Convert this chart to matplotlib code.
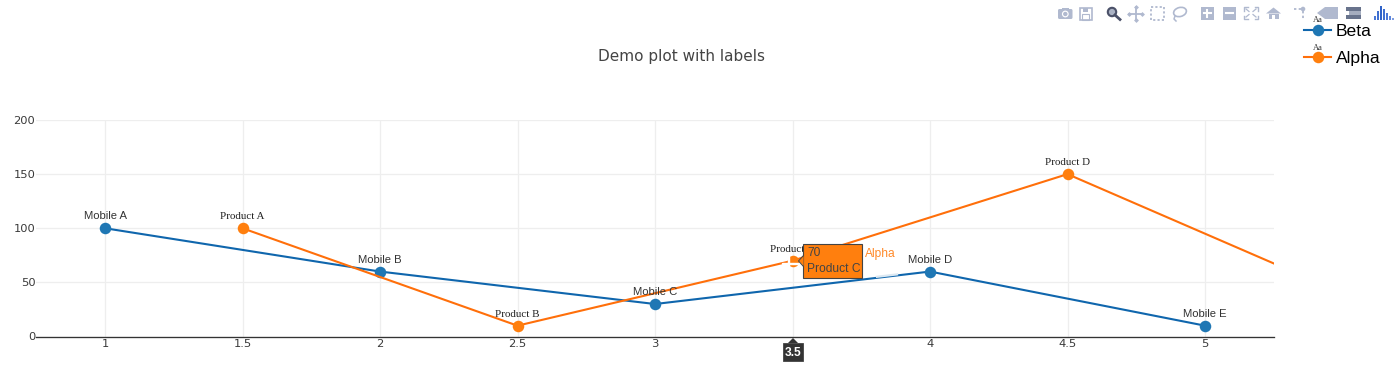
import matplotlib
matplotlib.use("Agg")
import matplotlib.pyplot as plt
from matplotlib.patches import Rectangle, Polygon, Circle, FancyBboxPatch, Ellipse

beta_x = [1, 2, 3, 4, 5]
beta_y = [100, 60, 30, 60, 10]
beta_labels = ["Mobile A", "Mobile B", "Mobile C", "Mobile D", "Mobile E"]
alpha_x = [1.5, 2.5, 3.5, 4.5, 5.5]
alpha_y = [100, 10, 70, 150, 40]
alpha_labels = ["Product A", "Product B", "Product C", "Product D", "Product E"]
x_ticks = [1, 1.5, 2, 2.5, 3, 3.5, 4, 4.5, 5]
x_ticklabels = ["1", "1.5", "2", "2.5", "3", "", "4", "4.5", "5"]
y_ticks = [0, 50, 100, 150, 200]

BLUE = "#1f77b4"
LINE_BLUE = "#0f66ad"
ORANGE = "#ff7f0e"
LINE_ORANGE = "#ff6f0a"
DARK = "#444444"
ICON = "#b0b9cf"
W, H = 1400, 388
px = 0.72

fig = plt.figure(figsize=(W / 100, H / 100), dpi=100, facecolor="white")
ax = fig.add_axes([36 / W, 1 - 336.5 / H, (1274 - 36) / W, (336.5 - 120) / H])
ax.set_xlim(1 - 69 / 275, 1 + (1274 - 105) / 275)
ax.set_ylim(0, 200)
for s in ["top", "right", "left"]:
    ax.spines[s].set_visible(False)
ax.spines["bottom"].set_color("#333333")
ax.spines["bottom"].set_linewidth(0.95)
ax.grid(True, color="#eeeeee", linewidth=0.9)
ax.set_axisbelow(True)
ax.set_xticks(x_ticks, x_ticklabels)
ax.set_yticks(y_ticks)
ax.tick_params(length=0, labelsize=11.5 * px, labelcolor="#3a3a3a")
ax.tick_params(axis="x", pad=2)
ax.tick_params(axis="y", pad=0.5)
for t in ax.get_xticklabels() + ax.get_yticklabels():
    t.set_fontfamily("DejaVu Sans")

ax.plot(beta_x, beta_y, color=LINE_BLUE, lw=1.5, marker="o", ms=8.3,
        mfc=BLUE, mec=BLUE, mew=0, zorder=3)
ax.plot(alpha_x, alpha_y, color=LINE_ORANGE, lw=1.5, marker="o", ms=8.3,
        mfc=ORANGE, mec=ORANGE, mew=0, zorder=4)

for xv, yv, lab in zip(beta_x, beta_y, beta_labels):
    ax.annotate(lab, (xv, yv), xytext=(0, 5), textcoords="offset points",
                ha="center", va="bottom", fontsize=11.2 * px, color="#333333",
                family="Liberation Sans", zorder=5)
for xv, yv, lab in zip(alpha_x, alpha_y, alpha_labels):
    ax.annotate(lab, (xv, yv), xytext=(0, 5), textcoords="offset points",
                ha="center", va="bottom", fontsize=11 * px, color="#222222",
                family="Liberation Serif", zorder=5)

ov = fig.add_axes([0, 0, 1, 1], facecolor="none")
ov.set_xlim(0, W)
ov.set_ylim(H, 0)
ov.axis("off")

ov.text(681.5, 57, "Demo plot with labels", ha="center", va="center",
        fontsize=15.3 * px, color=DARK, family="DejaVu Sans")

# legend
for y, col, line, name in [(30, BLUE, LINE_BLUE, "Beta"), (57, ORANGE, LINE_ORANGE, "Alpha")]:
    ov.plot([1304, 1331], [y, y], color=line, lw=1.5)
    ov.plot([1317.5], [y], "o", color=col, ms=8.3, mew=0)
    ov.text(1336, y + 6.5, name, ha="left", va="baseline", fontsize=17.5 * px,
            color="black", family="Liberation Sans")
    ov.text(1317.5, y - 9.5, "Aa", ha="center", va="center", fontsize=8.5 * px,
            color="#333333", family="Liberation Serif")

# hover spike remnants across the hovered marker
ov.add_patch(Rectangle((782, 262.5), 16, 1.2, color="white", zorder=6))
ov.add_patch(Rectangle((788, 256), 1.4, 18, color="white", zorder=6))
# faded stretch of blue line
ov.plot([877, 897], [276.8, 274.4], color="#dbe8f2", lw=1.6, zorder=6)

# hover tooltip
ov.add_patch(Rectangle((803, 244), 59, 34, fc=ORANGE, ec=DARK, lw=0.8, zorder=7))
ov.add_patch(Polygon([(798.5, 261), (803.6, 256), (803.6, 266)], closed=True, fc=ORANGE, ec="none", zorder=7.2))
ov.plot([803, 798.5, 803], [256, 261, 266], color=DARK, lw=0.7, zorder=7.3)
ov.text(807, 253.5, "70", fontsize=12 * px, color=DARK, va="center", family="Liberation Sans", zorder=8)
ov.text(807, 269, "Product C", fontsize=12 * px, color=DARK, va="center", family="Liberation Sans", zorder=8)
ov.text(865, 253.5, "Alpha", fontsize=12 * px, color="#ff8a2a", va="center", family="Liberation Sans", zorder=8)

# x hover label
ov.add_patch(Polygon([(788, 343), (793, 338), (798, 343)], closed=True, fc="#333333", ec="none", zorder=7))
ov.add_patch(Rectangle((783, 343), 20, 18, fc="#333333", ec="#444444", lw=0.6, zorder=7))
ov.text(793, 352.5, "3.5", fontsize=12 * px, color="white", ha="center", va="center",
        family="Liberation Sans", weight="bold", zorder=8)

# modebar: camera
ov.add_patch(FancyBboxPatch((1058, 9), 14.5, 10, boxstyle="round,pad=0,rounding_size=1.5", fc=ICON, ec="none"))
ov.add_patch(Rectangle((1061.5, 7.5), 7, 2, fc=ICON, ec="none"))
ov.add_patch(Circle((1065.3, 14), 3.4, fc="white", ec="none"))
ov.add_patch(Circle((1065.3, 14), 2.2, fc=ICON, ec="none"))
# save
ov.add_patch(Rectangle((1079.5, 7.5), 12, 12, fc="none", ec=ICON, lw=1.2))
ov.add_patch(Rectangle((1082.5, 7.5), 5.5, 4, fc=ICON, ec="none"))
ov.add_patch(Rectangle((1082, 14), 7, 5.5, fc="none", ec=ICON, lw=0.8))
# zoom (active)
ov.add_patch(Circle((1112, 12), 4.2, fc="#aab2c4", ec="#4a5068", lw=1.5))
ov.plot([1115, 1120], [15, 19.5], color="#4a5068", lw=2)
# pan
ov.plot([1129, 1142], [13.5, 13.5], color=ICON, lw=1.3)
ov.plot([1135.5, 1135.5], [7, 20], color=ICON, lw=1.3)
ov.plot([1129, 1142], [13.5, 13.5], ls="none", marker="D", ms=2.5, color=ICON, mew=0)
ov.plot([1135.5, 1135.5], [7, 20], ls="none", marker="D", ms=2.5, color=ICON, mew=0)
# box select
ov.add_patch(Rectangle((1151, 7), 12.5, 12.5, fc="none", ec=ICON, lw=1.3, ls=(0, (1.2, 1.2))))
# lasso
ov.add_patch(Ellipse((1180, 12), 13, 9, angle=-15, fc="none", ec=ICON, lw=1.2))
ov.plot([1175, 1174, 1176], [16, 19, 21], color=ICON, lw=1.1)
# zoom in / out
for cx, plus in [(1207, True), (1229, False)]:
    ov.add_patch(Rectangle((cx - 6, 7), 12.5, 12.5, fc=ICON, ec="none"))
    ov.plot([cx - 3.5, cx + 4], [13.25, 13.25], color="white", lw=1.5)
    if plus:
        ov.plot([cx + 0.25, cx + 0.25], [9.5, 17], color="white", lw=1.5)
# autoscale
for dx, dy in [(-7, -6), (7, -6), (-7, 6), (7, 6)]:
    cx, cy = 1251 + dx, 13 + dy
    sx, sy = (1 if dx < 0 else -1), (1 if dy < 0 else -1)
    ov.plot([cx + 3.5 * sx, cx, cx], [cy, cy, cy + 3.5 * sy], color=ICON, lw=1)
    ov.plot([cx + 2 * sx, cx + 5 * sx], [cy + 2 * sy, cy + 4.5 * sy], color=ICON, lw=0.9)
# home
ov.add_patch(Polygon([(1266, 13.5), (1273.5, 7.5), (1281, 13.5)], closed=True, fc=ICON, ec="none"))
ov.add_patch(Rectangle((1268.5, 13.5), 10, 5.5, fc=ICON, ec="none"))
ov.add_patch(Rectangle((1272, 15), 3, 4, fc="white", ec="none"))
# spikes
ov.add_patch(Circle((1303, 9), 2.3, fc=ICON, ec="none"))
ov.plot([1294, 1301], [9, 9], color=ICON, lw=1.3, ls=(0, (1.3, 1.3)))
ov.plot([1303, 1303], [11, 19], color=ICON, lw=1.3, ls=(0, (1.3, 1.3)))
# closest / compare
ov.add_patch(Polygon([(1317, 13), (1325, 7), (1338, 7), (1338, 19), (1325, 19)], closed=True, fc=ICON, ec="none"))
ov.add_patch(Rectangle((1346, 7), 15, 4, fc="#68738c", ec="none"))
ov.add_patch(Rectangle((1349, 11), 12, 4, fc="#a5adbf", ec="none"))
ov.add_patch(Rectangle((1346, 15), 15, 4, fc="#68738c", ec="none"))
# logo
for bx, bh, c in [(1374, 4, "#4b78d6"), (1377, 9, "#3f6fd0"), (1380, 14, "#2f62c8"), (1383, 11, "#3f6fd0"),
                  (1386, 7, "#4b78d6"), (1389, 4, "#5f86da"), (1392, 2, "#7f9ee2")]:
    ov.add_patch(Rectangle((bx, 19.5 - bh), 2, bh, fc=c, ec="none"))

fig.savefig("out.png", dpi=100)
